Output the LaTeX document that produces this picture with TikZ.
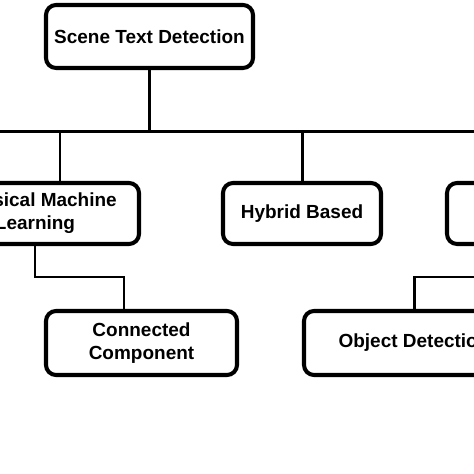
\documentclass[tikz,border=0pt]{standalone}
\usepackage{fontspec}
\setmainfont{Liberation Sans}
\begin{document}
\begin{tikzpicture}[box/.style={draw, line width=2.3pt, rounded corners=0.2cm, align=center, font=\bfseries\fontsize{10.8}{13}\selectfont, minimum height=1.22cm, inner sep=0pt}, link/.style={line width=1.7pt}]
			\useasboundingbox (0,0) rectangle (9.48,9.48);
			\node[box, minimum width=4.14cm, minimum height=1.26cm] (S) at (2.99,8.75) {Scene Text Detection};
			\node[box, minimum width=4.16cm] (C) at (0.70,5.21) {Classical Machine\\Learning};
			\node[box, minimum width=3.16cm] (H) at (6.04,5.21) {Hybrid Based};
			\node[box, minimum width=3.16cm] (D) at (10.52,5.21) {};
			\node[box, minimum width=3.82cm, minimum height=1.28cm] (CC) at (2.83,2.62) {Connected\\Component};
			\node[box, minimum width=4.40cm, minimum height=1.28cm] (O) at (8.28,2.62) {Object Detection};
			\coordinate (BL) at (-0.3,6.84);
			\coordinate (BR) at (9.8,6.84);
			\coordinate (B1) at (1.20,6.84);
			\coordinate (K1) at (2.48,3.94);
			\coordinate (K2) at (9.8,3.94);
			\draw[link] (S.south)--(S.south |- BL) (BL)--(BR) (B1)--(B1 |- C.north) (H.north)--(H.north |- BL);
			\draw[link] (C.south) |- (K1)--(K1 |- CC.north) (O.north) |- (K2);
		\end{tikzpicture}
\end{document}
